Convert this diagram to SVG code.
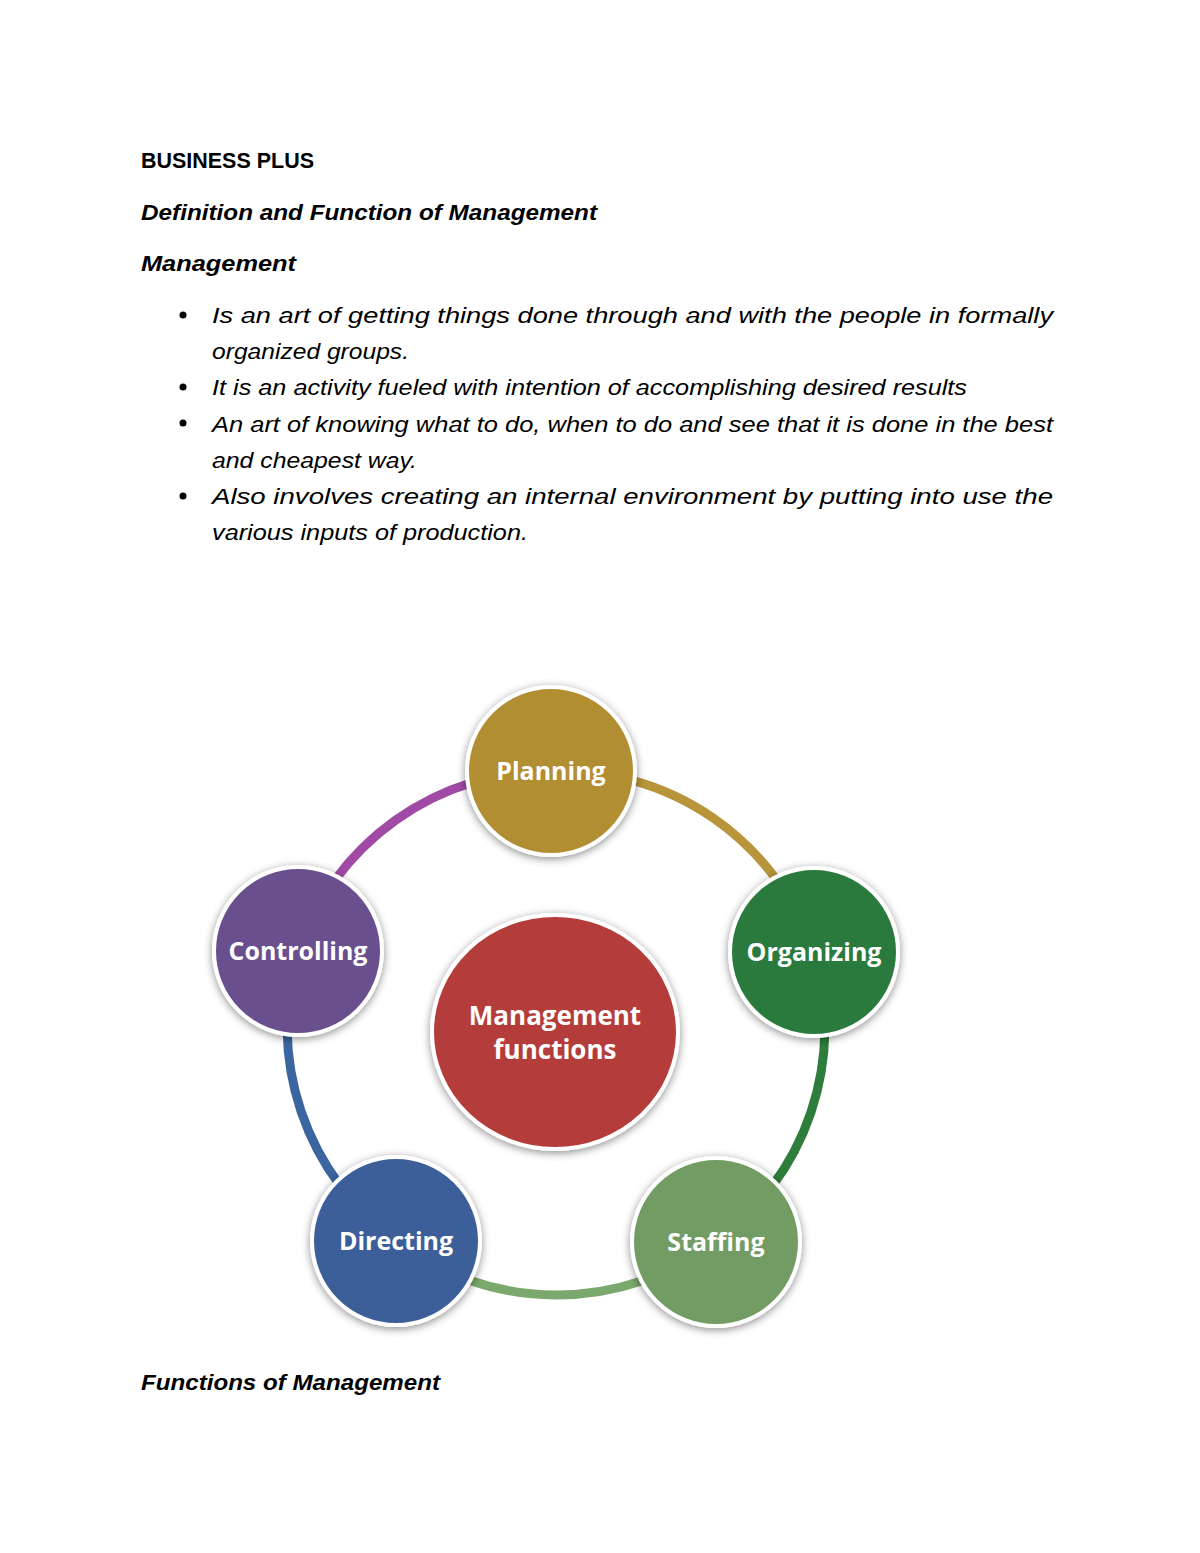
<svg xmlns="http://www.w3.org/2000/svg" width="1200" height="1553" viewBox="0 0 1200 1553">
<defs>
<filter id="sh" x="-20%" y="-20%" width="140%" height="140%">
<feDropShadow dx="0" dy="2" stdDeviation="4" flood-color="#000" flood-opacity="0.45"/>
</filter>
<style>
.h{font-family:"Liberation Sans",Arial,sans-serif;font-weight:bold;font-size:22px;fill:#000}
.hi{font-style:italic}
.b{font-family:"Liberation Sans",Arial,sans-serif;font-style:italic;font-size:22px;fill:#000}
.dot{fill:#000}
.node{stroke:#fff;stroke-width:4;filter:url(#sh)}
.lbl{font-family:"Open Sans","Liberation Sans",sans-serif;font-weight:bold;font-size:25px;fill:#fff;text-anchor:middle}
.big{font-size:26px}
.arc{fill:none;stroke-width:9}
</style>
</defs>
<rect width="1200" height="1553" fill="#fff"/>
<g id="text">
<text class="h" x="141" y="168" textLength="173" lengthAdjust="spacingAndGlyphs">BUSINESS PLUS</text>
<text class="h hi" x="141" y="220" textLength="456" lengthAdjust="spacingAndGlyphs">Definition and Function of Management</text>
<text class="h hi" x="141" y="271" textLength="155" lengthAdjust="spacingAndGlyphs">Management</text>
<circle class="dot" cx="183" cy="315" r="3.5"/>
<circle class="dot" cx="183" cy="387" r="3.5"/>
<circle class="dot" cx="183" cy="423" r="3.5"/>
<circle class="dot" cx="183" cy="496" r="3.5"/>
<text class="b" x="212" y="323" textLength="841" lengthAdjust="spacingAndGlyphs">Is an art of getting things done through and with the people in formally</text>
<text class="b" x="212" y="359" textLength="197" lengthAdjust="spacingAndGlyphs">organized groups.</text>
<text class="b" x="212" y="395" textLength="755" lengthAdjust="spacingAndGlyphs">It is an activity fueled with intention of accomplishing desired results</text>
<text class="b" x="212" y="432" textLength="841" lengthAdjust="spacingAndGlyphs">An art of knowing what to do, when to do and see that it is done in the best</text>
<text class="b" x="212" y="468" textLength="205" lengthAdjust="spacingAndGlyphs">and cheapest way.</text>
<text class="b" x="212" y="504" textLength="841" lengthAdjust="spacingAndGlyphs">Also involves creating an internal environment by putting into use the</text>
<text class="b" x="212" y="540" textLength="316" lengthAdjust="spacingAndGlyphs">various inputs of production.</text>
<text class="h hi" x="141" y="1390" textLength="299" lengthAdjust="spacingAndGlyphs">Functions of Management</text>
</g>
<g id="connectors">
<path class="arc" stroke="#B8953A" d="M551,771 A266,266 0 0 1 814,952"/>
<path class="arc" stroke="#2E7D3C" d="M814,952 A266,266 0 0 1 716,1242"/>
<path class="arc" stroke="#7BA86C" d="M716,1242 A266,266 0 0 1 396,1241"/>
<path class="arc" stroke="#3B65A0" d="M396,1241 A266,266 0 0 1 298,951"/>
<path class="arc" stroke="#A04AA6" d="M298,951 A266,266 0 0 1 551,771"/>
</g>
<g id="center">
<ellipse class="node" cx="555" cy="1032" rx="123" ry="117" fill="#B43C3A"/>
<text class="lbl big" x="555" y="1025">Management</text>
<text class="lbl big" x="555" y="1059">functions</text>
</g>
<g id="planning">
<circle class="node" cx="551" cy="771" r="84" fill="#B28E33"/>
<text class="lbl" x="551" y="780">Planning</text>
</g>
<g id="organizing">
<circle class="node" cx="814" cy="952" r="84" fill="#2B7A3E"/>
<text class="lbl" x="814" y="961">Organizing</text>
</g>
<g id="staffing">
<circle class="node" cx="716" cy="1242" r="84" fill="#729C64"/>
<text class="lbl" x="716" y="1251">Staffing</text>
</g>
<g id="directing">
<circle class="node" cx="396" cy="1241" r="84" fill="#3D5F99"/>
<text class="lbl" x="396" y="1250">Directing</text>
</g>
<g id="controlling">
<circle class="node" cx="298" cy="951" r="84" fill="#6B4F8F"/>
<text class="lbl" x="298" y="960">Controlling</text>
</g>
</svg>
